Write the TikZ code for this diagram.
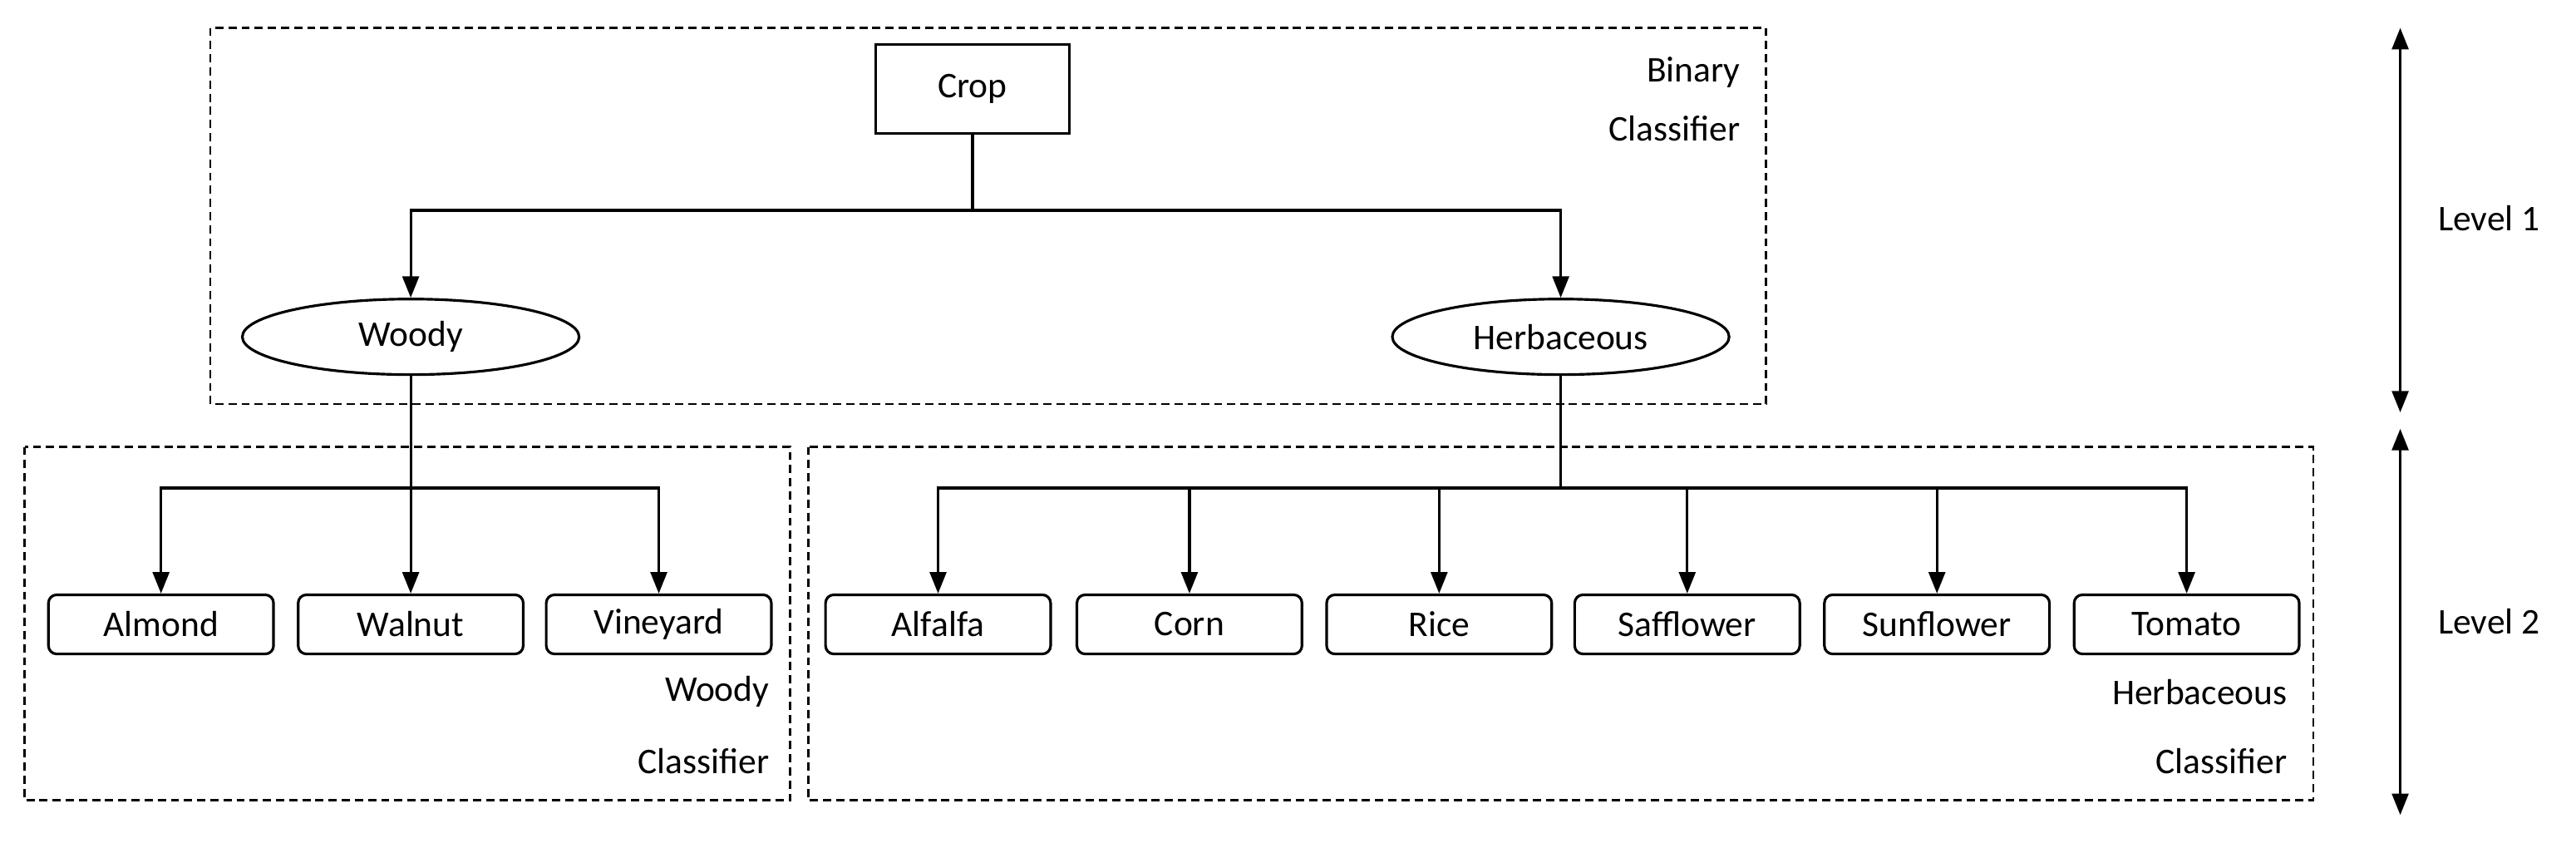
\documentclass[tikz,border=0pt]{standalone}
\usepackage{fontspec}
\setmainfont{Carlito}
\usetikzlibrary{arrows.meta,shapes.geometric}
\begin{document}
\begin{tikzpicture}[x=1pt,y=-1pt,font=\fontsize{22}{26}\selectfont,line width=1.6pt,
  box/.style={draw,minimum width=118,minimum height=54,inner sep=0},
  ell/.style={draw,ellipse,minimum width=205,minimum height=46,inner sep=0},
  leaf/.style={draw,rounded corners=5,minimum width=137,minimum height=36,inner sep=0},
  grp/.style={draw,line width=1.2pt,dash pattern=on 5pt off 3pt},
  arr/.style={-{Triangle[length=13pt,width=10pt]}},
  lbl/.style={align=right,anchor=east,inner sep=0}]
\useasboundingbox (0,0) rectangle (1568,513);
\draw[grp] (128,17) rectangle (1075,246);
\draw[grp] (15,272) rectangle (481,487);
\draw[grp] (492,272) rectangle (1408,487);
\node[box] (crop) at (592,54) {Crop};
\node[ell] (woody) at (250,205) {Woody};
\node[ell] (herb) at (950,205) {Herbaceous};
\foreach \n/\t/\x in {almond/Almond/98,walnut/Walnut/250,vine/Vineyard/401,alf/Alfalfa/571,corn/Corn/724,rice/Rice/876,saff/Safflower/1027,sun/Sunflower/1179,tom/Tomato/1331}
  \node[leaf] (\n) at (\x,380) {\t};
\coordinate (c1) at (592,128);
\draw (crop.south) -- (c1);
\draw[arr] (c1) -| (woody.north);
\draw[arr] (c1) -| (herb.north);
\coordinate (c2) at (250,297);
\draw (woody.south) -- (c2);
\foreach \n in {almond,walnut,vine} \draw[arr] (c2) -| (\n.north);
\coordinate (c3) at (950,297);
\draw (herb.south) -- (c3);
\foreach \n in {alf,corn,rice,saff,sun,tom} \draw[arr] (c3) -| (\n.north);
\node[lbl] (bl1) at (1060,44) {Binary};
\node[lbl] (bl2) at (1060,78) {Classifier};
\node[lbl] (wl1) at (469,421) {Woody};
\node[lbl] (wl2) at (469,463) {Classifier};
\node[lbl] (hl1) at (1393,421) {Herbaceous};
\node[lbl] (hl2) at (1393,463) {Classifier};
\coordinate (a1) at (1461,17); \coordinate (a2) at (1461,251);
\coordinate (a3) at (1461,261); \coordinate (a4) at (1461,496);
\draw[{Triangle[length=13pt,width=10pt]}-{Triangle[length=13pt,width=10pt]}] (a1) -- (a2);
\draw[{Triangle[length=13pt,width=10pt]}-{Triangle[length=13pt,width=10pt]}] (a3) -- (a4);
\node (lv1) at (1515,133) {Level 1};
\node (lv2) at (1515,378) {Level 2};
\end{tikzpicture}
\end{document}
